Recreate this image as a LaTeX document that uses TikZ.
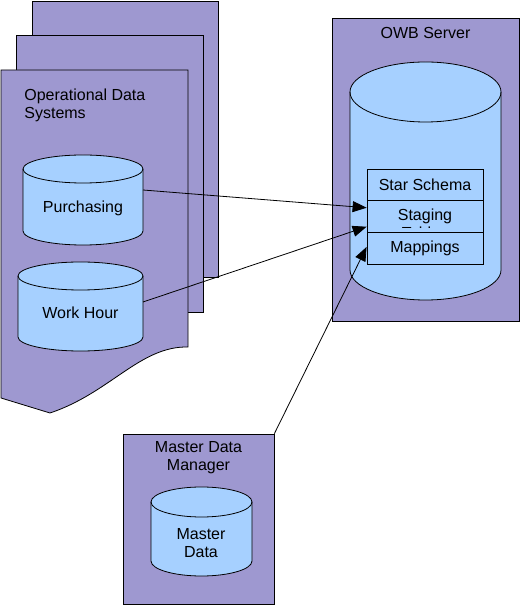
\documentclass[tikz,border=0pt]{standalone}
\usepackage{fontspec}
\setmainfont{Liberation Sans}
\usetikzlibrary{arrows.meta}
\definecolor{pagepurple}{RGB}{158,152,208}
\definecolor{dbblue}{RGB}{166,208,255}
\newcommand\drawcyl[5]{% cx, rx, top-center y, bottom-center y, ry
  \filldraw[cylfill] (#1-#2,#3) -- (#1-#2,#4)
    arc[start angle=180,end angle=360,x radius=#2,y radius=#5]
    -- (#1+#2,#3)
    arc[start angle=0,end angle=180,x radius=#2,y radius=#5] -- cycle;
  \draw (#1-#2,#3) arc[start angle=180,end angle=360,x radius=#2,y radius=#5];
}
\begin{document}
\begin{tikzpicture}[x=1pt,y=1pt,line width=0.8pt,
  txt/.style={font=\fontsize{16}{18}\selectfont,inner sep=0pt,align=center},
  pagebox/.style={fill=pagepurple,draw=black},
  cylfill/.style={fill=dbblue,draw=black},
  link/.style={-{Triangle[length=14pt,width=11pt]}},
  rowbox/.style={draw=black,minimum width=116pt,minimum height=31.67pt,inner sep=0pt,txt}]
\useasboundingbox (0,0) rectangle (524,608);

% stacked operational pages
\filldraw[pagebox] (32,331) rectangle (218,607);
\filldraw[pagebox] (16,296) rectangle (203,573);
\filldraw[pagebox] (1,538) -- (188,538) -- (188,261)
  .. controls (140,262) and (110,215) .. (50,195) -- (1,210) -- cycle;
\node[txt,align=left,anchor=north west] (ods) at (24,519) {Operational Data\\Systems};

\drawcyl{83}{60}{439}{377}{14}
\node[txt] (purch) at (83,400) {Purchasing};
\coordinate (purchR) at (143,418);

\drawcyl{80.5}{62.5}{332}{271}{14}
\node[txt] (work) at (80.5,295) {Work Hour};
\coordinate (workR) at (143,306);

% OWB server
\filldraw[pagebox] (332,287) rectangle (519,590);
\node[txt] (owb) at (425.5,575) {OWB Server};
\drawcyl{425.5}{75.5}{516}{338}{30}
\node[rowbox] (star) at (425,423.17) {Star Schema};
\node[rowbox] (staging) at (425,391.5) {};
\node[rowbox] (map) at (425,359.83) {Mappings};
\begin{scope}
  \clip (368,380) rectangle (482,407);
  \node[txt] (stagingtxt) at (425,384) {Staging\\Tables};
\end{scope}
\coordinate (t1) at ([yshift=-7.5pt]staging.north west);
\coordinate (t2) at ([yshift=6pt]staging.south west);
\coordinate (t3) at ([yshift=-15pt]map.north west);

% master data manager
\node[pagebox,minimum width=151pt,minimum height=170pt,inner sep=0pt] (mdm) at (198.5,89) {};
\node[txt] (mdmtxt) at (198.5,150) {Master Data\\Manager};
\drawcyl{201.5}{50.5}{106}{47}{15}
\node[txt] (mdata) at (201,64.5) {Master\\Data};

% connectors
\draw[link] (purchR) -- (t1);
\draw[link] (workR) -- (t2);
\draw[link] (mdm.north east) -- (t3);
\end{tikzpicture}
\end{document}
